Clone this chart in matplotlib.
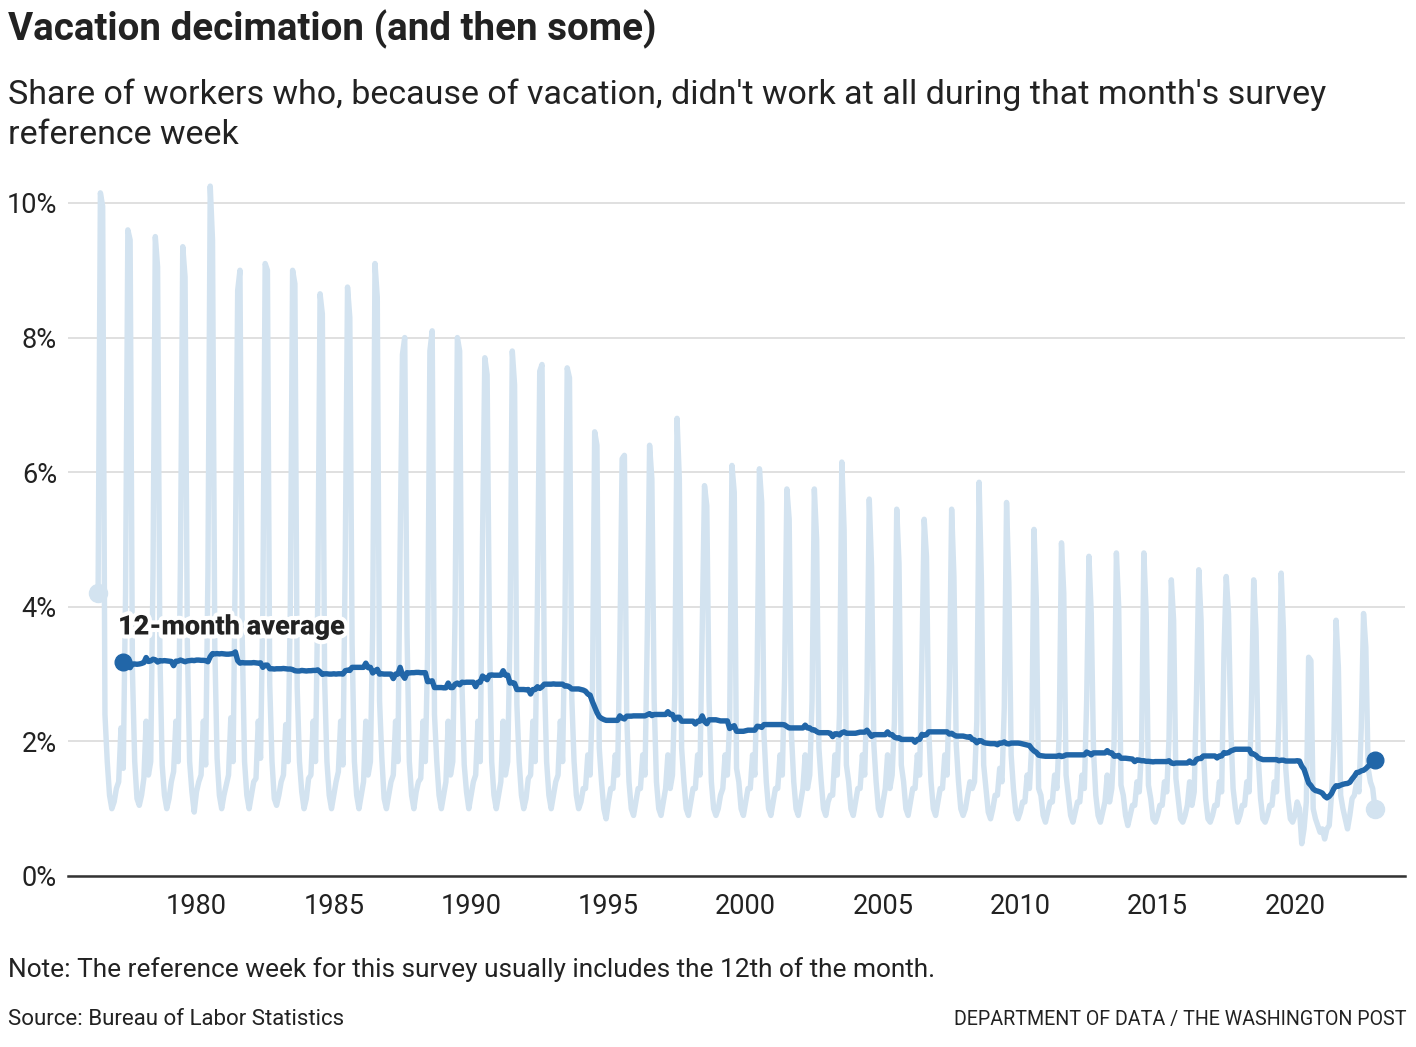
import numpy as np
import pandas as pd
import matplotlib
matplotlib.use("Agg")
import matplotlib.pyplot as plt
import matplotlib.patheffects as pe

plt.rcParams['font.family'] = ['Roboto', 'DejaVu Sans']

# Monthly share (%) of workers absent all week because of vacation
# data starts June 1976, ends December 2022
vac_1970s = [
    4.2, 10.15, 9.95, 2.4, 1.7, 1.2, 1.0,                        # 1976 Jun-Dec
    1.1, 1.3, 1.4, 2.2, 1.6, 4.2, 9.6, 9.45, 3.05, 1.7, 1.15, 1.05,  # 1977
    1.2, 1.45, 2.3, 1.5, 1.7, 4.5, 9.5, 9.05, 3.3, 1.65, 1.2, 1.0,   # 1978
    1.15, 1.4, 1.55, 2.3, 1.7, 4.7, 9.35, 8.9, 3.45, 1.7, 1.25, 0.95,  # 1979
]
vac_1980s = [
    1.25, 1.4, 1.5, 2.3, 1.65, 4.5, 10.25, 9.45, 3.4, 1.75, 1.2, 1.0,  # 1980
    1.2, 1.35, 1.5, 2.35, 1.7, 4.8, 8.7, 9.0, 3.5, 1.7, 1.2, 1.0,      # 1981
    1.2, 1.4, 1.45, 2.3, 1.75, 4.0, 9.1, 9.0, 2.85, 1.7, 1.15, 1.05,   # 1982
    1.2, 1.4, 1.5, 2.25, 1.7, 4.0, 9.0, 8.8, 2.8, 1.7, 1.25, 1.0,      # 1983
    1.15, 1.45, 1.5, 2.3, 1.7, 4.1, 8.65, 8.35, 2.9, 1.7, 1.2, 1.0,    # 1984
    1.2, 1.4, 1.55, 2.3, 1.65, 4.7, 8.75, 8.3, 3.45, 1.7, 1.2, 1.0,    # 1985
    1.2, 1.4, 2.3, 1.5, 1.7, 3.7, 9.1, 8.6, 2.6, 1.75, 1.15, 1.0,      # 1986
    1.2, 1.4, 1.5, 2.3, 1.7, 4.9, 7.75, 8.0, 3.6, 1.7, 1.2, 1.0,       # 1987
    1.25, 1.4, 1.45, 2.3, 1.7, 3.3, 7.8, 8.1, 2.4, 1.7, 1.2, 1.0,      # 1988
    1.2, 1.4, 2.3, 1.5, 1.7, 3.9, 8.0, 7.8, 2.85, 1.65, 1.25, 1.0,     # 1989
]
vac_1990s = [
    1.2, 1.4, 1.5, 2.3, 1.7, 5.0, 7.7, 7.45, 3.65, 1.7, 1.2, 1.0,      # 1990
    1.2, 1.4, 2.3, 1.5, 1.7, 3.6, 7.8, 7.3, 2.55, 1.7, 1.2, 1.0,       # 1991
    1.15, 1.45, 1.5, 2.3, 1.7, 4.1, 7.5, 7.6, 3.0, 1.7, 1.2, 1.0,      # 1992
    1.2, 1.4, 1.5, 2.3, 1.7, 3.75, 7.55, 7.4, 2.65, 1.7, 1.2, 1.0,     # 1993
    1.1, 1.3, 1.3, 1.8, 1.5, 2.6, 6.6, 6.4, 1.9, 1.4, 1.0, 0.85,       # 1994
    1.1, 1.3, 1.3, 1.8, 1.5, 3.4, 6.2, 6.25, 2.4, 1.4, 1.0, 0.9,       # 1995
    1.1, 1.3, 1.3, 1.8, 1.5, 3.6, 6.4, 5.9, 2.6, 1.4, 1.0, 0.9,        # 1996
    1.1, 1.3, 1.8, 1.3, 1.5, 2.7, 6.8, 5.9, 1.9, 1.4, 1.0, 0.9,        # 1997
    1.1, 1.3, 1.3, 1.8, 1.5, 3.65, 5.8, 5.5, 2.6, 1.4, 1.0, 0.9,       # 1998
    1.0, 1.2, 1.3, 1.8, 1.5, 2.3, 6.1, 5.7, 1.6, 1.4, 1.0, 0.9,        # 1999
]
vac_2000s = [
    1.1, 1.3, 1.3, 1.8, 1.5, 3.0, 6.05, 5.55, 2.1, 1.4, 1.0, 0.9,      # 2000
    1.1, 1.3, 1.3, 1.8, 1.5, 2.95, 5.75, 5.3, 2.1, 1.4, 1.0, 0.9,      # 2001
    1.1, 1.3, 1.8, 1.3, 1.5, 2.6, 5.75, 5.0, 1.9, 1.4, 1.0, 0.9,       # 2002
    1.1, 1.2, 1.2, 1.8, 1.5, 2.4, 6.15, 5.15, 1.65, 1.4, 1.0, 0.9,     # 2003
    1.1, 1.3, 1.3, 1.8, 1.5, 2.75, 5.6, 4.6, 1.95, 1.4, 1.0, 0.9,      # 2004
    1.1, 1.3, 1.8, 1.3, 1.5, 2.3, 5.45, 4.65, 1.65, 1.4, 1.0, 0.9,     # 2005
    1.1, 1.3, 1.3, 1.8, 1.5, 3.2, 5.3, 4.75, 2.15, 1.4, 1.0, 0.9,      # 2006
    1.1, 1.3, 1.3, 1.8, 1.5, 2.8, 5.45, 4.45, 1.95, 1.4, 1.0, 0.9,     # 2007
    1.0, 1.2, 1.4, 1.3, 1.4, 2.3, 5.85, 4.4, 1.65, 1.3, 0.95, 0.85,    # 2008
    1.0, 1.2, 1.2, 1.6, 1.4, 2.5, 5.55, 4.35, 1.8, 1.3, 0.95, 0.85,    # 2009
]
vac_2010s = [
    0.95, 1.1, 1.1, 1.5, 1.3, 1.95, 5.15, 4.1, 1.3, 1.2, 0.9, 0.8,     # 2010
    0.95, 1.1, 1.1, 1.5, 1.3, 2.1, 4.95, 4.2, 1.5, 1.2, 0.9, 0.8,      # 2011
    0.95, 1.1, 1.1, 1.5, 1.3, 2.6, 4.75, 3.9, 1.85, 1.2, 0.9, 0.8,     # 2012
    0.95, 1.1, 1.5, 1.1, 1.3, 2.0, 4.8, 4.0, 1.35, 1.2, 0.9, 0.75,     # 2013
    0.9, 1.05, 1.05, 1.4, 1.25, 1.9, 4.8, 3.9, 1.35, 1.15, 0.85, 0.8,  # 2014
    0.9, 1.05, 1.05, 1.4, 1.25, 2.05, 4.4, 3.8, 1.45, 1.15, 0.85, 0.8, # 2015
    0.9, 1.05, 1.4, 1.05, 1.25, 2.7, 4.55, 3.8, 1.9, 1.15, 0.85, 0.8,  # 2016
    0.9, 1.05, 1.05, 1.4, 1.25, 3.3, 4.45, 3.9, 2.2, 1.3, 1.0, 0.8,    # 2017
    0.9, 1.05, 1.05, 1.4, 1.25, 2.5, 4.4, 3.65, 1.75, 1.15, 0.85, 0.8, # 2018
    0.9, 1.05, 1.05, 1.4, 1.25, 2.3, 4.5, 3.65, 1.6, 1.15, 0.85, 0.8,  # 2019
]
vac_2020s = [
    0.9, 1.1, 1.0, 0.48, 0.7, 1.1, 3.25, 3.2, 1.0, 0.85, 0.75, 0.65,   # 2020
    0.7, 0.55, 0.7, 0.75, 1.2, 1.95, 3.8, 3.1, 1.2, 1.0, 0.85, 0.7,    # 2021
    0.9, 1.15, 1.2, 1.4, 1.25, 2.2, 3.9, 3.4, 1.6, 1.4, 1.3, 1.0,      # 2022
]

start_month = "1976-06"
year_ticks = [1980, 1985, 1990, 1995, 2000, 2005, 2010, 2015, 2020]
pct_ticks = [0, 2, 4, 6, 8, 10]

title = "Vacation decimation (and then some)"
subtitle1 = "Share of workers who, because of vacation, didn't work at all during that month's survey"
subtitle2 = "reference week"
note = "Note: The reference week for this survey usually includes the 12th of the month."
source = "Source: Bureau of Labor Statistics"
credit = "DEPARTMENT OF DATA / THE WASHINGTON POST"
avg_label = "12-month average"

# ---- build series ----
values = vac_1970s + vac_1980s + vac_1990s + vac_2000s + vac_2010s + vac_2020s
dates = pd.date_range(start_month, periods=len(values), freq="MS")
s = pd.Series(values, index=dates)
x = dates.year + (dates.month - 1) / 12.0
avg = s.rolling(12).mean()
mask = avg.notna().values

LIGHT = "#d3e3f0"
DARK = "#2166a8"
TEXT = "#222222"

W, H = 1416, 1047
fig = plt.figure(figsize=(W / 100, H / 100), dpi=100)
fig.patch.set_facecolor("white")

ax_left, ax_right = 68 / W, 1405 / W
ax_bottom_px, ax_top_px = 876, 169.3
ax = fig.add_axes([ax_left, 1 - ax_bottom_px / H, ax_right - ax_left,
                   (ax_bottom_px - ax_top_px) / H])

x0 = 1976 + (68 - 86.65) / 27.46
x1 = 1976 + (1405 - 86.65) / 27.46
ax.set_xlim(x0, x1)
ax.set_ylim(0, 10.5)

ax.plot(x, s.values, color=LIGHT, lw=3.9, solid_joinstyle="round",
        solid_capstyle="round", zorder=2, clip_on=False)
ax.plot([x[0], x[-1]], [s.values[0], s.values[-1]], "o", color=LIGHT,
        ms=13, zorder=2, clip_on=False)
ax.plot(x[mask], avg.values[mask], color=DARK, lw=3.9, solid_joinstyle="round",
        solid_capstyle="round", zorder=3)
xa = x[mask]
ya = avg.values[mask]
ax.plot([xa[0], xa[-1]], [ya[0], ya[-1]], "o", color=DARK, ms=12, zorder=4,
        clip_on=False)

ax.text(1977.14, 3.70, avg_label, fontsize=19.5, fontweight="heavy", color=TEXT,
        ha="left", va="center", zorder=5,
        path_effects=[pe.withStroke(linewidth=6, foreground="white")])

# grid
ax.set_yticks(pct_ticks)
ax.set_yticklabels([f"{v}%" for v in pct_ticks])
ax.set_xticks(year_ticks)
ax.set_xticklabels([str(v) for v in year_ticks])
ax.grid(axis="y", color="#dddddd", lw=1.3, zorder=0)
ax.grid(axis="x", visible=False)
for sp in ["top", "right", "left"]:
    ax.spines[sp].set_visible(False)
ax.spines["bottom"].set_color("#333333")
ax.spines["bottom"].set_linewidth(1.8)
ax.spines["bottom"].set_zorder(6)
ax.tick_params(axis="both", length=0, labelsize=19.5, colors=TEXT)
ax.tick_params(axis="y", pad=8)
ax.tick_params(axis="x", pad=12.5)
ax.set_facecolor("none")

# texts
def fy(px):
    return 1 - px / H

fig.text(8 / W, fy(40), title, fontsize=27.7, fontweight="bold", color=TEXT,
         ha="left", va="baseline")
fig.text(8 / W, fy(104), subtitle1, fontsize=24.5, color=TEXT, ha="left",
         va="baseline")
fig.text(8 / W, fy(144), subtitle2, fontsize=24.5, color=TEXT, ha="left",
         va="baseline")
fig.text(8 / W, fy(977), note, fontsize=18.95, color=TEXT, ha="left",
         va="baseline")
fig.text(8 / W, fy(1025), source, fontsize=16, color=TEXT, ha="left",
         va="baseline")
fig.text(1407 / W, fy(1025), credit, fontsize=14.1, color=TEXT, ha="right",
         va="baseline")

fig.savefig("out.png", dpi=100, facecolor="white")
